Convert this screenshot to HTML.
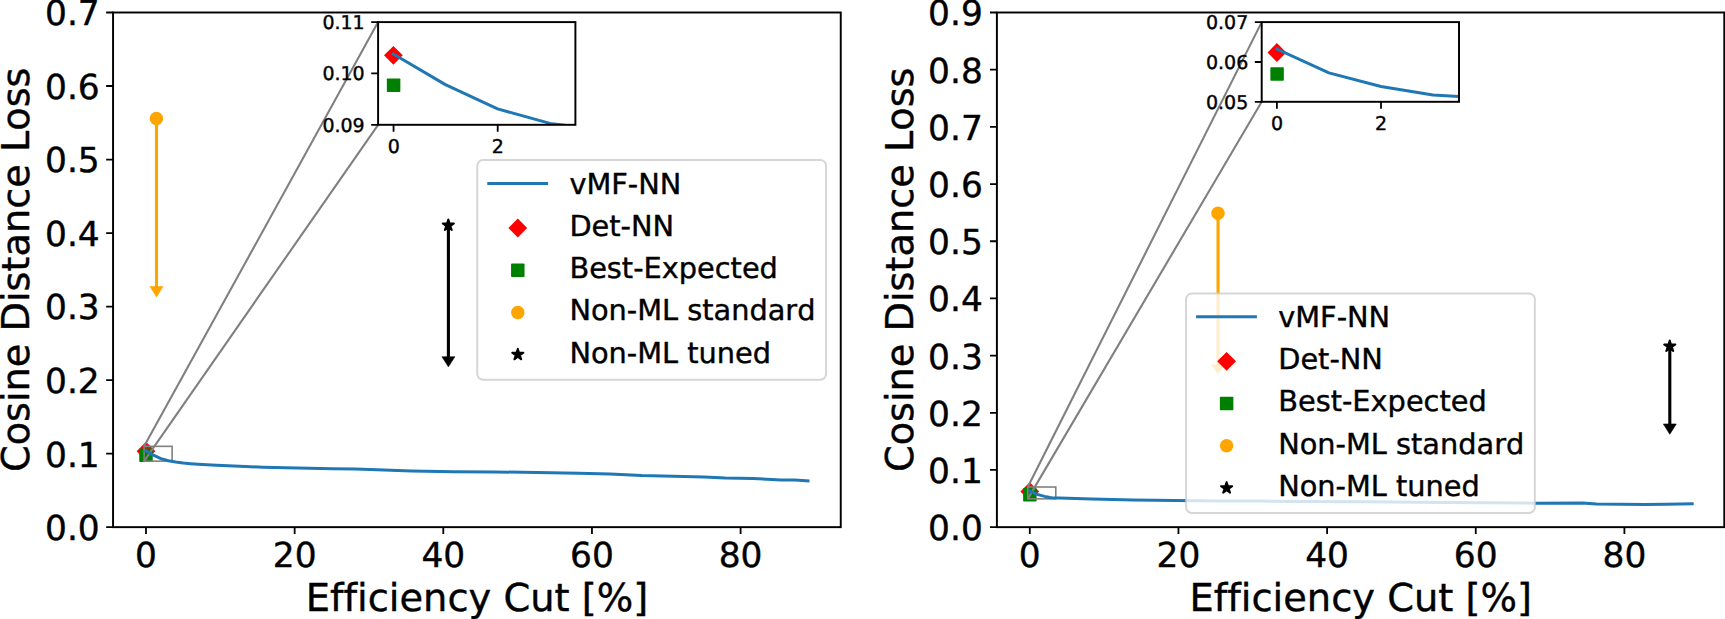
<!DOCTYPE html>
<html lang="en"><head><meta charset="utf-8"><title>Cosine Distance Loss vs Efficiency Cut</title>
<style>html,body{margin:0;padding:0;background:#fff}body{width:1725px;height:619px;overflow:hidden}svg{display:block}text{font-family:"DejaVu Sans","Liberation Sans",sans-serif;fill:#000;stroke:#000;stroke-width:0.4px;stroke-linejoin:round;font-variant-ligatures:none;font-feature-settings:"liga" 0,"clig" 0;font-kerning:none;text-rendering:geometricPrecision}</style>
</head><body>
<svg width="1725" height="619" viewBox="0 0 1725 619">
<rect width="1725" height="619" fill="#fff"/>
<g id="left">
<clipPath id="cl"><rect x="113.06" y="12.5" width="727.69" height="514.65"/></clipPath>
<g clip-path="url(#cl)">
<path d="M146 441.8L155.4 451.2L146 460.6L136.6 451.2Z" fill="#ff0000"/>
<rect x="139.25" y="448.55" width="13.5" height="13.5" rx="0.8" fill="#008000"/>
<path d="M156.5 118.5V287.2" stroke="#ffa500" stroke-width="3.1" fill="none"/><path d="M150.05 286.6H162.95L156.5 296.9Z" fill="#ffa500" stroke="#ffa500" stroke-width="0.6" stroke-linejoin="round"/>
<circle cx="156.4" cy="118.45" r="6.75" fill="#ffa500"/>
<path d="M448.4 225.2V357.4" stroke="#000" stroke-width="3.1" fill="none"/><path d="M441.95 356.8H454.85L448.4 366.8Z" fill="#000" stroke="#000" stroke-width="0.6" stroke-linejoin="round"/>
<path d="M448.3 219.4L449.62 223.48L453.91 223.48L450.44 226L451.77 230.07L448.3 227.55L444.83 230.07L446.16 226L442.69 223.48L446.98 223.48Z" fill="#000" stroke="#000" stroke-width="1.9" stroke-linejoin="round"/>
<rect x="144.1" y="446.35" width="28" height="14.8" fill="none" stroke="#808080" stroke-width="1.6"/>
<path d="M144.1 446.35L378.1 22.1M144.1 461.15L378.1 124.8" stroke="#808080" stroke-width="2.1" fill="none"/>
<path d="M146 450.7L153.4 455.2L160.9 458.65L168.3 460.75L175.7 462L183.2 462.95L190.6 463.65L198 464.2L216.4 465.2L239.6 466.3L262.8 467.2L285.9 467.7L309.1 468.3L332.3 468.7L355.5 469.1L370 469.4L411.7 471L453.5 471.7L495.2 472L537 472.4L578.7 473.2L610 474.1L641.7 475.6L683.5 476.6L704.3 477L725.2 478.1L753 478.4L780.9 479.9L794.8 479.9L808 480.9" fill="none" stroke="#1f77b4" stroke-width="3.0" stroke-linejoin="round" stroke-linecap="square"/>
</g>
<rect x="113.06" y="12.5" width="727.69" height="514.65" fill="none" stroke="#000" stroke-width="1.95"/>
<path d="M146 527.15v6.9M294.65 527.15v6.9M443.3 527.15v6.9M591.95 527.15v6.9M740.6 527.15v6.9M113.06 527.15h-6.9M113.06 453.63h-6.9M113.06 380.11h-6.9M113.06 306.59h-6.9M113.06 233.06h-6.9M113.06 159.54h-6.9M113.06 86.02h-6.9M113.06 12.5h-6.9" stroke="#000" stroke-width="1.8" fill="none"/>
<text x="99.76" y="540.05" font-size="34.4" text-anchor="end">0.0</text>
<text x="99.76" y="466.53" font-size="34.4" text-anchor="end">0.1</text>
<text x="99.76" y="393.01" font-size="34.4" text-anchor="end">0.2</text>
<text x="99.76" y="319.49" font-size="34.4" text-anchor="end">0.3</text>
<text x="99.76" y="245.96" font-size="34.4" text-anchor="end">0.4</text>
<text x="99.76" y="172.44" font-size="34.4" text-anchor="end">0.5</text>
<text x="99.76" y="98.92" font-size="34.4" text-anchor="end">0.6</text>
<text x="99.76" y="25.4" font-size="34.4" text-anchor="end">0.7</text>
<text x="146" y="567" font-size="34.4" text-anchor="middle">0</text>
<text x="294.65" y="567" font-size="34.4" text-anchor="middle">20</text>
<text x="443.3" y="567" font-size="34.4" text-anchor="middle">40</text>
<text x="591.95" y="567" font-size="34.4" text-anchor="middle">60</text>
<text x="740.6" y="567" font-size="34.4" text-anchor="middle">80</text>
<text x="477" y="611.3" font-size="38.4" text-anchor="middle">Efficiency Cut [%]</text>
<text transform="translate(28.8 269.8) rotate(-90)" font-size="38.25" text-anchor="middle">Cosine Distance Loss</text>
<rect x="378.1" y="22.1" width="197.3" height="102.7" fill="#fff" stroke="none"/>
<clipPath id="c378"><rect x="378.1" y="22.1" width="197.3" height="102.7"/></clipPath>
<g clip-path="url(#c378)">
<path d="M393.4 45.9L402.8 55.3L393.4 64.7L384 55.3Z" fill="#ff0000"/>
<rect x="386.85" y="78.45" width="13.5" height="13.5" rx="0.8" fill="#008000"/>
<path d="M393.3 54L445.4 84.6L497.6 108.9L549.9 123.4L602 129.8" fill="none" stroke="#1f77b4" stroke-width="3.0" stroke-linejoin="round" stroke-linecap="square"/>
</g>
<rect x="378.1" y="22.1" width="197.3" height="102.7" fill="none" stroke="#000" stroke-width="1.95"/>
<path d="M393.55 124.8v6.9M497.7 124.8v6.9M378.1 22.1h-6.9M378.1 73.3h-6.9M378.1 124.8h-6.9" stroke="#000" stroke-width="1.8" fill="none"/>
<text x="364.7" y="28.9" font-size="19.0" text-anchor="end">0.11</text>
<text x="364.7" y="80.1" font-size="19.0" text-anchor="end">0.10</text>
<text x="364.7" y="131.6" font-size="19.0" text-anchor="end">0.09</text>
<text x="393.7" y="153.25" font-size="19.0" text-anchor="middle">0</text>
<text x="497.85" y="153.25" font-size="19.0" text-anchor="middle">2</text>
<rect x="477.25" y="160.05" width="348.8" height="219.6" rx="5.8" fill="#fff" fill-opacity="0.8" stroke="#ccc" stroke-opacity="0.8" stroke-width="1.95"/>
<path d="M488.8 183.4H546.6" stroke="#1f77b4" stroke-width="3.0" stroke-linecap="square"/>
<path d="M517.8 218.6L527.2 228L517.8 237.4L508.4 228Z" fill="#ff0000"/>
<rect x="511.05" y="263.45" width="13.5" height="13.5" rx="0.8" fill="#008000"/>
<circle cx="517.8" cy="312.4" r="6.75" fill="#ffa500"/>
<path d="M517.8 348.7L519.12 352.78L523.41 352.78L519.94 355.3L521.27 359.37L517.8 356.85L514.33 359.37L515.66 355.3L512.19 352.78L516.48 352.78Z" fill="#000" stroke="#000" stroke-width="1.9" stroke-linejoin="round"/>
<text x="569.4" y="193.7" font-size="28.8">vMF-NN</text>
<text x="569.4" y="235.9" font-size="28.8">Det-NN</text>
<text x="569.4" y="278.1" font-size="28.8">Best-Expected</text>
<text x="569.4" y="320.3" font-size="28.8">Non-ML standard</text>
<text x="569.4" y="362.5" font-size="28.8">Non-ML tuned</text>
</g>
<g id="right">
<clipPath id="cr"><rect x="996.9" y="12.5" width="727.4" height="514.65"/></clipPath>
<g clip-path="url(#cr)">
<path d="M1029.8 482.2L1039.2 491.6L1029.8 501L1020.4 491.6Z" fill="#ff0000"/>
<rect x="1023.1" y="488.05" width="13.5" height="13.5" rx="0.8" fill="#008000"/>
<path d="M1218.05 213.4V365.4" stroke="#ffa500" stroke-width="3.1" fill="none"/><path d="M1211.6 364.8H1224.5L1218.05 373.8Z" fill="#ffa500" stroke="#ffa500" stroke-width="0.6" stroke-linejoin="round"/>
<circle cx="1218" cy="213.35" r="6.75" fill="#ffa500"/>
<path d="M1669.8 346.2V424.6" stroke="#000" stroke-width="3.1" fill="none"/><path d="M1663.35 424H1676.25L1669.8 434.3Z" fill="#000" stroke="#000" stroke-width="0.6" stroke-linejoin="round"/>
<path d="M1669.75 340.4L1671.07 344.48L1675.36 344.48L1671.89 347L1673.22 351.07L1669.75 348.55L1666.28 351.07L1667.61 347L1664.14 344.48L1668.43 344.48Z" fill="#000" stroke="#000" stroke-width="1.9" stroke-linejoin="round"/>
<rect x="1027.8" y="487.0" width="28" height="11.85" fill="none" stroke="#808080" stroke-width="1.6"/>
<path d="M1027.8 487.0L1261.7 22.1M1027.8 498.85L1261.7 101.8" stroke="#808080" stroke-width="2.1" fill="none"/>
<path d="M1029.8 491L1037.2 494.4L1044.7 496.35L1050 497.5L1052.1 497.7L1059.5 498L1091.7 498.9L1133.5 500L1175.2 500.4L1217 500.9L1258.7 501.1L1290 501.5L1363.5 501.7L1447 502.4L1485 502.7L1535 503.2L1582.4 503.1L1596.3 504.1L1645 504.6L1665.9 504.3L1692.2 503.8" fill="none" stroke="#1f77b4" stroke-width="3.0" stroke-linejoin="round" stroke-linecap="square"/>
</g>
<rect x="996.9" y="12.5" width="727.4" height="514.65" fill="none" stroke="#000" stroke-width="1.95"/>
<path d="M1029.8 527.15v6.9M1178.45 527.15v6.9M1327.1 527.15v6.9M1475.75 527.15v6.9M1624.4 527.15v6.9M996.9 527.15h-6.9M996.9 469.97h-6.9M996.9 412.78h-6.9M996.9 355.6h-6.9M996.9 298.42h-6.9M996.9 241.23h-6.9M996.9 184.05h-6.9M996.9 126.87h-6.9M996.9 69.68h-6.9M996.9 12.5h-6.9" stroke="#000" stroke-width="1.8" fill="none"/>
<text x="982.8" y="540.05" font-size="34.4" text-anchor="end">0.0</text>
<text x="982.8" y="482.87" font-size="34.4" text-anchor="end">0.1</text>
<text x="982.8" y="425.68" font-size="34.4" text-anchor="end">0.2</text>
<text x="982.8" y="368.5" font-size="34.4" text-anchor="end">0.3</text>
<text x="982.8" y="311.32" font-size="34.4" text-anchor="end">0.4</text>
<text x="982.8" y="254.13" font-size="34.4" text-anchor="end">0.5</text>
<text x="982.8" y="196.95" font-size="34.4" text-anchor="end">0.6</text>
<text x="982.8" y="139.77" font-size="34.4" text-anchor="end">0.7</text>
<text x="982.8" y="82.58" font-size="34.4" text-anchor="end">0.8</text>
<text x="982.8" y="25.4" font-size="34.4" text-anchor="end">0.9</text>
<text x="1029.8" y="567" font-size="34.4" text-anchor="middle">0</text>
<text x="1178.45" y="567" font-size="34.4" text-anchor="middle">20</text>
<text x="1327.1" y="567" font-size="34.4" text-anchor="middle">40</text>
<text x="1475.75" y="567" font-size="34.4" text-anchor="middle">60</text>
<text x="1624.4" y="567" font-size="34.4" text-anchor="middle">80</text>
<text x="1360.8" y="611.3" font-size="38.4" text-anchor="middle">Efficiency Cut [%]</text>
<text transform="translate(913.1 269.8) rotate(-90)" font-size="38.25" text-anchor="middle">Cosine Distance Loss</text>
<rect x="1261.7" y="22.1" width="197.3" height="79.7" fill="#fff" stroke="none"/>
<clipPath id="c1261"><rect x="1261.7" y="22.1" width="197.3" height="79.7"/></clipPath>
<g clip-path="url(#c1261)">
<path d="M1276.9 43.1L1286.3 52.5L1276.9 61.9L1267.5 52.5Z" fill="#ff0000"/>
<rect x="1270.35" y="67.25" width="13.5" height="13.5" rx="0.8" fill="#008000"/>
<path d="M1276.9 49.1L1328.9 72.9L1381 86.45L1433 95.05L1459 96.4L1485 97.5" fill="none" stroke="#1f77b4" stroke-width="3.0" stroke-linejoin="round" stroke-linecap="square"/>
</g>
<rect x="1261.7" y="22.1" width="197.3" height="79.7" fill="none" stroke="#000" stroke-width="1.95"/>
<path d="M1276.9 101.8v6.9M1381 101.8v6.9M1261.7 22.1h-6.9M1261.7 62h-6.9M1261.7 101.8h-6.9" stroke="#000" stroke-width="1.8" fill="none"/>
<text x="1248.3" y="28.9" font-size="19.0" text-anchor="end">0.07</text>
<text x="1248.3" y="68.8" font-size="19.0" text-anchor="end">0.06</text>
<text x="1248.3" y="108.6" font-size="19.0" text-anchor="end">0.05</text>
<text x="1277.05" y="130.25" font-size="19.0" text-anchor="middle">0</text>
<text x="1381.15" y="130.25" font-size="19.0" text-anchor="middle">2</text>
<rect x="1186.06" y="293.4" width="348.8" height="219.6" rx="5.8" fill="#fff" fill-opacity="0.8" stroke="#ccc" stroke-opacity="0.8" stroke-width="1.95"/>
<path d="M1197.61 316.75H1255.41" stroke="#1f77b4" stroke-width="3.0" stroke-linecap="square"/>
<path d="M1226.61 351.95L1236.01 361.35L1226.61 370.75L1217.21 361.35Z" fill="#ff0000"/>
<rect x="1219.86" y="396.8" width="13.5" height="13.5" rx="0.8" fill="#008000"/>
<circle cx="1226.61" cy="445.75" r="6.75" fill="#ffa500"/>
<path d="M1226.61 482.05L1227.93 486.13L1232.22 486.13L1228.75 488.65L1230.08 492.72L1226.61 490.2L1223.14 492.72L1224.47 488.65L1221 486.13L1225.29 486.13Z" fill="#000" stroke="#000" stroke-width="1.9" stroke-linejoin="round"/>
<text x="1278.21" y="327.05" font-size="28.8">vMF-NN</text>
<text x="1278.21" y="369.25" font-size="28.8">Det-NN</text>
<text x="1278.21" y="411.45" font-size="28.8">Best-Expected</text>
<text x="1278.21" y="453.65" font-size="28.8">Non-ML standard</text>
<text x="1278.21" y="495.85" font-size="28.8">Non-ML tuned</text>
</g>
</svg></body></html>
